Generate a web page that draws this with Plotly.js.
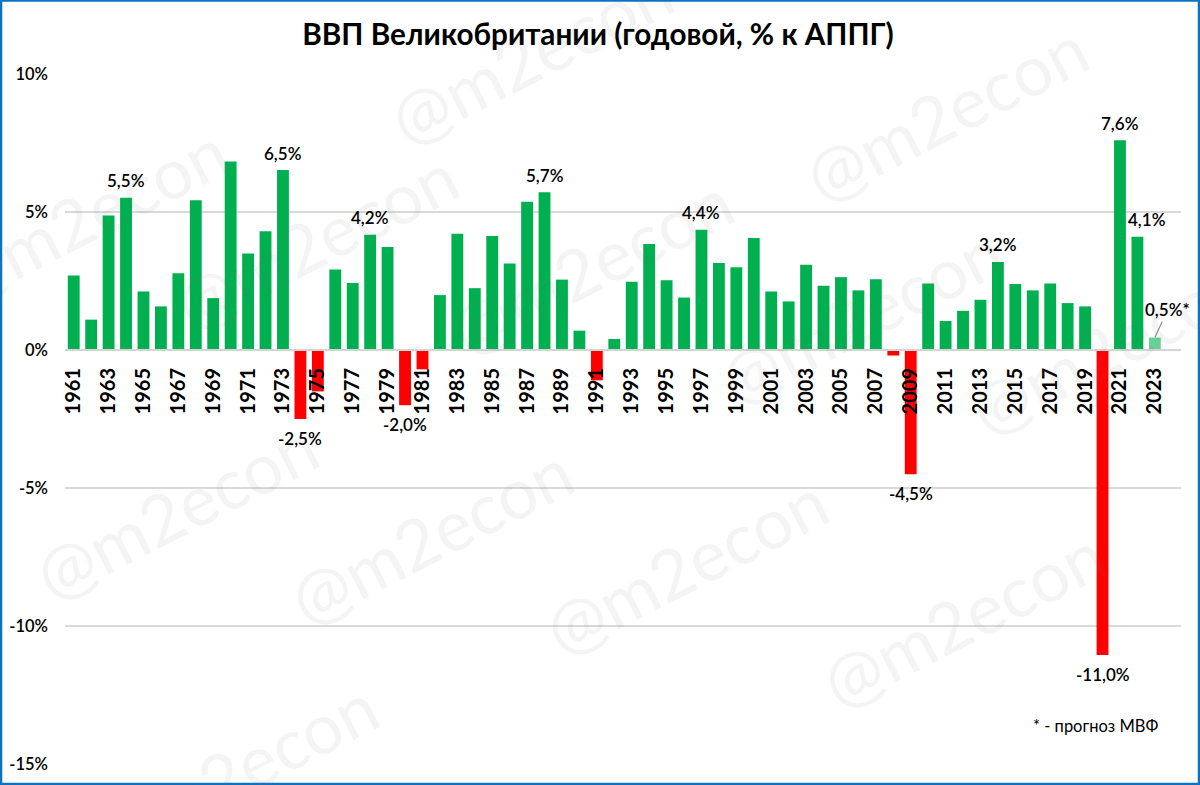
<!DOCTYPE html>
<html><head><meta charset="utf-8">
<script src="https://cdn.plot.ly/plotly-3.0.1.min.js"></script>
<style>html,body{margin:0;padding:0;background:#fff;overflow:hidden}#c{width:1200px;height:785px}</style>
</head><body><div id="c"></div>
<script>
const years=[1961,1962,1963,1964,1965,1966,1967,1968,1969,1970,1971,1972,1973,1974,1975,1976,1977,1978,1979,1980,1981,1982,1983,1984,1985,1986,1987,1988,1989,1990,1991,1992,1993,1994,1995,1996,1997,1998,1999,2000,2001,2002,2003,2004,2005,2006,2007,2008,2009,2010,2011,2012,2013,2014,2015,2016,2017,2018,2019,2020,2021,2022,2023];
const gdp=[2.7,1.1,4.87,5.52,2.12,1.58,2.78,5.43,1.88,6.83,3.5,4.3,6.52,-2.5,-1.5,2.92,2.43,4.18,3.73,-2.0,-0.7,1.99,4.21,2.24,4.13,3.13,5.37,5.72,2.55,0.7,-1.1,0.4,2.47,3.84,2.53,1.9,4.36,3.15,3.0,4.06,2.12,1.76,3.09,2.33,2.64,2.16,2.56,-0.2,-4.5,2.41,1.05,1.42,1.82,3.19,2.39,2.16,2.41,1.7,1.58,-11.05,7.6,4.1,0.45];
const forecastYear=2023;
const labelYears=[1964,1973,1974,1978,1980,1988,1997,2009,2014,2020,2021,2022];
const labelTexts=["5,5%","6,5%","-2,5%","4,2%","-2,0%","5,7%","4,4%","-4,5%","3,2%","-11,0%","7,6%","4,1%"];
const yTicks=[10,5,0,-5,-10,-15];
const yTickText=["10%","5%","0%","-5%","-10%","-15%"];
const xTicks=years.filter(y=>y%2===1);
const wmCenters=[[530,55],[945,112],[85,215],[315,240],[590,265],[860,315],[1110,345],[175,510],[430,535],[685,565],[962,618],[235,770]];

const F="Lato, 'Open Sans', sans-serif";
const colors=years.map((y,i)=>y===forecastYear?'#66D096':(gdp[i]<0?'#FF0000':'#00B050'));

const wm=wmCenters.map(c=>({xref:'paper',yref:'paper',x:(c[0]-65)/1116,y:(764.3-c[1])/690,text:'@m2econ',showarrow:false,textangle:-27,
  font:{family:F,size:70,color:'rgba(120,120,120,0.08)'},xanchor:'center',yanchor:'middle'}));

const labels=labelYears.map((y,i)=>{
  const v=gdp[years.indexOf(y)];
  return {x:y,y:v,xref:'x',yref:'y',text:labelTexts[i],showarrow:false,xanchor:'center',yanchor:'middle',
    yshift:v<0?-19.5:17,xshift:y===2022?10:0,font:{family:F,size:17,color:'#000',weight:600}};
});
const forecast={x:forecastYear,y:gdp[years.indexOf(forecastYear)],xref:'x',yref:'y',text:'0,5%*',showarrow:true,arrowhead:0,arrowwidth:1.2,arrowcolor:'#8C8C8C',
  ax:13,ay:-28,standoff:0,font:{family:F,size:17,color:'#000',weight:600}};
const foot={xref:'paper',yref:'paper',x:(1160-65)/1116,y:(764.3-726)/690,xanchor:'right',yanchor:'middle',text:'* - прогноз МВФ',showarrow:false,font:{family:F,size:16.5,color:'#000'}};

Plotly.newPlot('c',[{type:'bar',x:years,y:gdp,marker:{color:colors,line:{width:0}},hoverinfo:'x+y'}],{
  width:1200,height:785,paper_bgcolor:'#fff',plot_bgcolor:'rgba(0,0,0,0)',showlegend:false,bargap:0.32,
  margin:{l:65,r:19,t:74.3,b:20.7,pad:0},
  title:{text:'<b>ВВП Великобритании (годовой, % к АППГ)</b>',font:{family:F,size:29.7,color:'#000'},x:598/1200,xanchor:'center',y:1-35/785,yanchor:'middle'},
  xaxis:{range:[1960.5,2024.5],anchor:'free',position:0.6,tickmode:'array',tickvals:xTicks,ticktext:xTicks.map(String),tickangle:-90,ticks:'outside',ticklen:9,tickcolor:'rgba(0,0,0,0)',
    showgrid:false,zeroline:false,showline:true,linecolor:'#D4D4D4',linewidth:2,tickfont:{family:F,size:20,color:'#000',weight:700}},
  yaxis:{range:[-15,10],tickmode:'array',tickvals:yTicks,ticktext:yTickText,showgrid:true,gridcolor:'#D9D9D9',gridwidth:2,zeroline:false,showline:false,
    ticks:'',ticklabelstandoff:16,tickfont:{family:F,size:16.5,color:'#000',weight:600},automargin:false},
  annotations:[...wm,...labels,forecast,foot],
  shapes:[{type:'rect',xref:'paper',yref:'paper',x0:-64/1116,x1:1+18/1116,y0:-20/690,y1:1+73.5/690,line:{color:'#0B72C4',width:2.5},fillcolor:'rgba(0,0,0,0)'}]
},{displayModeBar:false,staticPlot:true});
</script></body></html>
